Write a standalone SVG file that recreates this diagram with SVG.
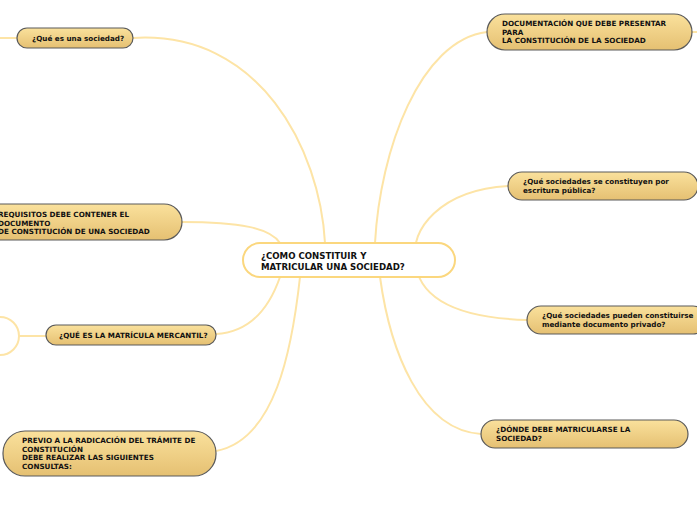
<svg xmlns="http://www.w3.org/2000/svg" width="697" height="520" viewBox="0 0 697 520">
<defs>
<linearGradient id="g" x1="0" y1="0" x2="0" y2="1"><stop offset="0" stop-color="#fae19c"/><stop offset="1" stop-color="#e5c072"/></linearGradient>
<style>
.n{fill:url(#g);stroke:#5a5a5a;stroke-width:1.2}
.t{font-family:"DejaVu Sans",Verdana,sans-serif;font-weight:bold;font-size:7.2px;fill:#111}
.c{fill:none;stroke:#fde4a6;stroke-width:2}
</style>
</defs>
<rect width="697" height="520" fill="#fff"/>
<g id="connectors">
<path class="c" d="M133,38 C260,30 320,150 325,243"/>
<path class="c" d="M0,38 L17,38"/>
<path class="c" d="M182,222 C240,222 270,228 280,243"/>
<path class="c" d="M216,334 C255,332 272,300 280,277"/>
<path class="c" d="M216,451 C275,440 292,350 300,277"/>
<path class="c" d="M487,32 C420,40 380,150 375,243"/>
<path class="c" d="M692,32 L697,32"/>
<path class="c" d="M508,186 C440,190 410,230 415,260"/>
<path class="c" d="M527,320 C460,318 418,300 415,260"/>
<path class="c" d="M481,434 C420,430 390,350 380,277"/>
<path class="c" d="M19,336 L46,336"/>
<path class="c" d="M0,317 A19,19 0 0 1 0,355" stroke="#fbd77e"/>
</g>
<g id="center"><rect x="243" y="243" width="212" height="34" rx="17" fill="#fff" stroke="#fbd77e" stroke-width="2"/>
<text class="t" style="font-size:8.6px" x="261" y="259">¿COMO CONSTITUIR Y</text><text class="t" style="font-size:8.6px" x="261" y="270">MATRICULAR UNA SOCIEDAD?</text></g>
<g id="n1"><rect class="n" x="17" y="28" width="116" height="20" rx="10"/><text class="t" x="32" y="41">¿Qué es una sociedad?</text></g>
<g id="n2"><rect class="n" x="-40" y="204" width="222" height="36" rx="18"/><text class="t" x="-2" y="217">REQUISITOS DEBE CONTENER EL</text><text class="t" x="-2" y="225.5">DOCUMENTO</text><text class="t" x="-2" y="234">DE CONSTITUCIÓN DE UNA SOCIEDAD</text></g>
<g id="n3"><rect class="n" x="46" y="325" width="170" height="20" rx="10"/><text class="t" x="59" y="338">¿QUÉ ES LA MATRÍCULA MERCANTIL?</text></g>
<g id="n4"><rect class="n" x="3" y="431" width="213" height="45" rx="22"/><text class="t" x="22" y="443">PREVIO A LA RADICACIÓN DEL TRÁMITE DE</text><text class="t" x="22" y="451.5">CONSTITUCIÓN</text><text class="t" x="22" y="460">DEBE REALIZAR LAS SIGUIENTES</text><text class="t" x="22" y="468.5">CONSULTAS:</text></g>
<g id="n5"><rect class="n" x="487" y="14" width="205" height="36" rx="18"/><text class="t" x="502" y="26">DOCUMENTACIÓN QUE DEBE PRESENTAR</text><text class="t" x="502" y="34.5">PARA</text><text class="t" x="502" y="43">LA CONSTITUCIÓN DE LA SOCIEDAD</text></g>
<g id="n6"><rect class="n" x="508" y="172" width="190" height="28" rx="14"/><text class="t" x="523" y="184">¿Qué sociedades se constituyen por</text><text class="t" x="523" y="193">escritura pública?</text></g>
<g id="n7"><rect class="n" x="527" y="306" width="180" height="28" rx="14"/><text class="t" x="542" y="318">¿Qué sociedades pueden constituirse</text><text class="t" x="542" y="327">mediante documento privado?</text></g>
<g id="n8"><rect class="n" x="481" y="420" width="207" height="28" rx="14"/><text class="t" x="496" y="432">¿DÓNDE DEBE MATRICULARSE LA</text><text class="t" x="496" y="441">SOCIEDAD?</text></g>
</svg>
